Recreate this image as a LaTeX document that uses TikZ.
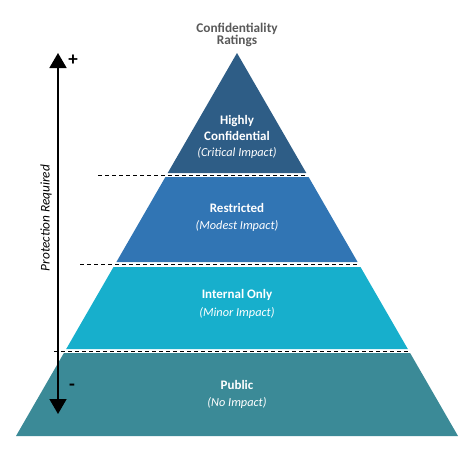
\documentclass[tikz,border=0pt]{standalone}
\usepackage{fontspec}
\setmainfont{Carlito}
\usetikzlibrary{arrows.meta,positioning}
\definecolor{tiertop}{HTML}{2E5D86}
\definecolor{tierres}{HTML}{3175B4}
\definecolor{tierint}{HTML}{17AFCC}
\definecolor{tierpub}{HTML}{3B8A97}
\definecolor{titlegray}{HTML}{595959}
\tikzset{
  lbl/.style={align=center, text=white, font=\fontsize{13}{16.5}\selectfont\bfseries},
  sub/.style={text=white, font=\fontsize{12.3}{14}\selectfont\itshape},
  sep/.style={draw=black, dash pattern=on 4pt off 3pt, line width=0.8pt},
  arr/.style={-{Triangle[length=15pt, width=17pt]}, line width=1.7pt}
}
\begin{document}
\begin{tikzpicture}[x=1pt, y=-1pt]
\useasboundingbox (0,0) rectangle (474,466);

% pyramid tiers
\fill[tiertop] (237,53) -- (306.3,173) -- (167.7,173) -- cycle;
\fill[tierres] (165.4,177) -- (308.6,177) -- (357.6,262) -- (116.4,262) -- cycle;
\fill[tierint] (113.5,267) -- (360.5,267) -- (407.8,349) -- (66.2,349) -- cycle;
\fill[tierpub] (63.9,353) -- (410.1,353) -- (458,436) -- (16,436) -- cycle;

% separators
\draw[sep] (98,175) -- (306,175);
\draw[sep] (80,264.5) -- (358,264.5);
\draw[sep] (54,351) -- (409,351);

% title
\node[align=center, text=titlegray, font=\fontsize{13.3}{12.5}\selectfont\bfseries] (title) at (237,35) {Confidentiality\\Ratings};

% tier labels
\node[lbl] (high) at (237,128) {Highly\\Confidential};
\node[sub] (highsub) at (237,153) {(Critical Impact)};
\node[lbl] (res) at (237,208) {Restricted};
\node[sub] (ressub) at (237,226) {(Modest Impact)};
\node[lbl] (int) at (237,295) {Internal Only};
\node[sub] (intsub) at (237,313) {(Minor Impact)};
\node[lbl] (pub) at (237,385) {Public};
\node[sub] (pubsub) at (237,403) {(No Impact)};

% protection axis
\coordinate (mid) at (58,233);
\coordinate (upper) at (58,53);
\coordinate (lower) at (58,414);
\draw[arr] (mid) -- (upper);
\draw[arr] (mid) -- (lower);
\node[font=\fontsize{19}{19}\selectfont\bfseries] (plus) at (73,60) {+};
\node[font=\fontsize{19}{19}\selectfont\bfseries] (minus) at (72,387) {-};
\node[rotate=90, font=\fontsize{13.3}{14}\selectfont\itshape] (prot) at (46,218) {Protection Required};
\end{tikzpicture}
\end{document}
